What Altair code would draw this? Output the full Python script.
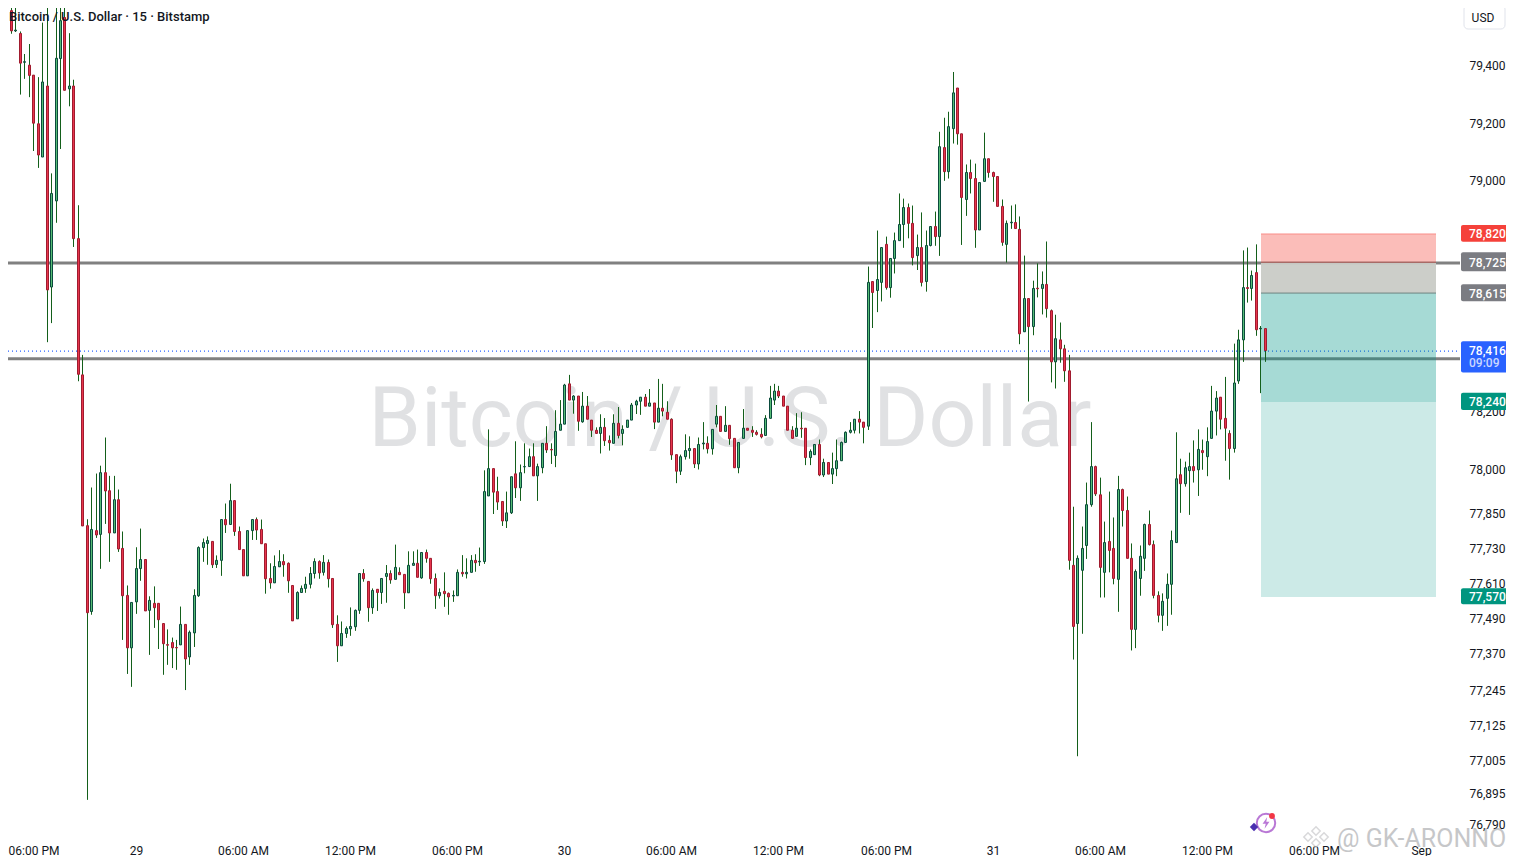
import json
import altair as alt
import pandas as pd

opens = [79623,79612,79594,79523,79514,79413,79403,79368,79198,79082,
79330,78630,78929,79426,79570,79320,79330,78798,78326,77807,
77513,77790,77777,77989,77927,77782,77896,77729,77568,77389,
77546,77660,77691,77517,77541,77541,77472,77400,77407,77390,
77399,77469,77358,77440,77567,77732,77746,77753,77674,77688,
77828,77811,77893,77787,77725,77635,77790,77828,77794,77745,
77626,77611,77666,77684,77678,77602,77488,77578,77592,77606,
77643,77684,77647,77681,77626,77469,77396,77438,77454,77461,
77517,77643,77616,77526,77589,77578,77633,77643,77623,77647,
77640,77577,77671,77678,77628,77715,77695,77626,77567,77582,
77575,77566,77567,77647,77642,77647,77688,77683,77684,77909,
78003,77924,77890,77823,77851,77985,77937,78009,78010,78044,
77978,78006,78090,78069,78048,78135,78156,78295,78239,78253,
78164,78218,78170,78135,78124,78145,78100,78090,78159,78124,
78145,78170,78222,78235,78249,78218,78229,78163,78211,78197,
78173,78051,77994,78044,78065,78072,78019,78088,78090,78071,
78156,78183,78131,78152,78107,78006,78107,78142,78135,78128,
78121,78117,78176,78239,78270,78253,78218,78135,78114,78142,
78142,78041,78051,78086,77981,78024,77984,78003,78030,78093,
78128,78135,78173,78163,78149,78649,78618,78646,78778,78628,
78729,78791,78847,78906,78851,78739,78767,78649,78774,78840,
78805,79115,79031,79181,79323,79163,78934,79028,79007,78828,
78997,79076,79028,79014,78910,78778,78853,78854,78830,78475,
78590,78493,78626,78625,78639,78548,78371,78447,78416,78340,
77671,77472,77654,77739,77879,78010,77913,77647,77753,77729,
77623,77931,77859,77695,77452,77626,77695,77811,77742,77568,
77500,77558,77606,77749,77982,77951,77996,78010,77999,78065,
78044,78107,78201,78249,78176,78124,78072,78305,78447,78628,
78625,78680,78485,78486]

closes = [79613,79593,79523,79526,79410,79415,79367,79200,79089,79344,
78620,78955,79427,79559,79315,79330,78798,78328,77806,77509,
77794,77775,77989,77926,77782,77896,77727,77567,77389,77544,
77660,77691,77515,77551,77526,77485,77403,77398,77389,77389,
77469,77351,77442,77568,77732,77749,77756,77673,77688,77828,
77810,77893,77787,77725,77635,77790,77828,77792,77745,77625,
77611,77667,77684,77673,77618,77481,77578,77592,77606,77643,
77684,77645,77681,77625,77468,77396,77438,77455,77462,77517,
77643,77625,77526,77585,77578,77626,77643,77621,77664,77639,
77577,77671,77678,77630,77715,77695,77625,77567,77578,77574,
77563,77568,77647,77642,77647,77688,77680,77685,77924,78003,
77922,77888,77823,77851,77975,77937,77989,78010,78044,77978,
78010,78090,78067,78067,78131,78156,78291,78239,78253,78166,
78218,78173,78135,78124,78145,78099,78092,78159,78117,78138,
78170,78222,78235,78249,78218,78229,78163,78211,78201,78173,
78050,77994,78044,78065,78072,78019,78086,78091,78071,78138,
78183,78131,78152,78106,78006,78093,78142,78135,78128,78121,
78112,78176,78246,78270,78253,78218,78135,78107,78142,78140,
78041,78062,78086,77981,78024,77984,78003,78030,78093,78128,
78135,78173,78163,78145,78646,78611,78656,78767,78628,78729,
78791,78847,78906,78851,78732,78767,78646,78774,78840,78805,
79118,79031,79188,79306,79163,78941,79028,79007,78828,78993,
79076,79028,79014,78910,78785,78851,78855,78833,78468,78590,
78493,78625,78624,78639,78555,78371,78451,78416,78340,77688,
77462,77695,77729,77879,78010,77916,77664,77749,77722,77626,
77931,77859,77695,77452,77650,77702,77811,77742,77568,77500,
77548,77606,77756,77968,77951,78006,78010,77996,78069,78058,
78096,78201,78246,78173,78142,78072,78298,78447,78628,78625,
78670,78482,78487,78410]

highs = [79665,79647,79630,79647,79521,79442,79477,79368,79361,79552,
79647,79025,79647,79609,79647,79515,79352,78914,78395,77829,
77938,77986,78013,78110,77978,77978,77931,77787,77602,77544,
77733,77797,77691,77565,77599,77541,77472,77452,77424,77416,
77530,77469,77448,77589,77736,77763,77770,77753,77705,77828,
77883,77951,77893,77804,77725,77790,77828,77835,77828,77745,
77678,77705,77723,77709,77681,77602,77582,77602,77632,77665,
77695,77688,77706,77691,77626,77500,77479,77462,77527,77520,
77643,77658,77616,77592,77589,77626,77672,77654,77742,77664,
77640,77719,77719,77725,77715,77725,77695,77643,77592,77647,
77578,77585,77657,77706,77695,77706,77709,77732,77997,78138,
78003,77975,77890,77924,77975,78097,78017,78090,78072,78090,
78020,78090,78149,78090,78204,78239,78295,78326,78256,78253,
78267,78253,78170,78145,78190,78177,78117,78190,78215,78152,
78170,78229,78240,78249,78260,78277,78229,78312,78295,78235,
78176,78051,78051,78121,78114,78072,78110,78163,78114,78138,
78222,78183,78218,78152,78107,78093,78208,78142,78149,78135,
78142,78187,78288,78295,78288,78253,78218,78149,78194,78197,
78142,78069,78086,78103,78037,78024,78058,78103,78096,78131,
78163,78173,78201,78163,78701,78649,78826,78767,78805,78729,
78819,78955,78937,78920,78913,78812,78889,78826,78840,78892,
79170,79219,79240,79379,79323,79163,79056,79073,79059,78993,
79167,79076,79031,79014,78934,78861,78913,78917,78875,78739,
78590,78652,78712,78684,78788,78552,78534,78507,78430,78395,
77872,77705,77804,77955,78163,78013,77972,77821,77924,77835,
77978,77934,77907,77746,77657,77739,77814,77859,77756,77582,
77575,77643,77790,78128,78037,78027,78058,78100,78138,78103,
78145,78288,78270,78249,78319,78135,78434,78482,78757,78767,
78687,78778,78495,78486]

lows = [79574,79551,79513,79519,79300,79355,79291,79103,79044,79082,
78439,78505,78853,79110,79315,79259,78769,78304,77806,76872,
77502,77765,77659,77813,77683,77782,77717,77416,77300,77256,
77505,77618,77515,77365,77457,77385,77297,77331,77320,77314,
77399,77245,77331,77392,77563,77683,77673,77662,77662,77635,
77782,77811,77772,77725,77635,77635,77758,77758,77745,77574,
77591,77611,77666,77632,77577,77481,77488,77578,77577,77592,
77626,77625,77636,77595,77457,77341,77396,77423,77430,77447,
77505,77615,77478,77505,77515,77539,77543,77608,77623,77639,
77522,77577,77671,77630,77625,77680,77608,77522,77557,77529,
77502,77546,77567,77632,77626,77647,77649,77669,77676,77909,
77847,77861,77806,77799,77847,77902,77892,77987,78010,77978,
77892,77987,78057,78019,78008,78135,78156,78239,78192,78133,
78161,78173,78112,78124,78055,78081,78065,78090,78107,78083,
78145,78170,78191,78188,78218,78218,78139,78163,78183,78173,
78033,77953,77981,78034,78037,78005,78000,78069,78055,78051,
78145,78131,78131,78085,78006,77987,78107,78135,78112,78117,
78107,78117,78176,78222,78246,78218,78135,78107,78114,78109,
78015,78015,78051,77977,77974,77984,77950,77977,78030,78093,
78124,78124,78124,78090,78136,78488,78543,78580,78621,78593,
78677,78791,78766,78799,78705,78689,78632,78614,78771,78773,
78738,78999,79007,79129,79125,78776,78877,78955,78766,78828,
78997,79010,78926,78910,78773,78715,78832,78833,78432,78475,
78234,78463,78594,78535,78524,78300,78279,78368,78302,77656,
77349,77020,77437,77693,77872,77909,77561,77561,77647,77606,
77512,77804,77695,77380,77388,77567,77652,77739,77558,77476,
77447,77464,77502,77749,77851,77941,77844,77955,77909,77999,
77977,78107,78117,78138,78030,77965,78058,78295,78371,78576,
78583,78461,78263,78371]

assert len(opens) == len(closes) == len(highs) == len(lows) == 284

price_ticks = [79400,79200,79000,78200,78000,77850,77730,77610,77490,77370,77245,77125,77005,76895,76790]
time_ticks = [6,30,54,78,102,126,150,174,198,222,246,270,294,318]
time_labels = ["06:00 PM","29","06:00 AM","12:00 PM","06:00 PM","30","06:00 AM","12:00 PM","06:00 PM","31","06:00 AM","12:00 PM","06:00 PM","Sep"]

# position tool zones: (top price, bottom price, colour, opacity)
zone_top = [78814, 78713, 78609, 78232]
zone_bot = [78713, 78609, 78232, 77563]
zone_color = ["#f44336", "#c9cbc6", "#009688", "#009688"]
zone_alpha = [0.35, 0.95, 0.35, 0.2]

# price tags
tag_top = [78845, 78751, 78640, 78442, 78264, 77593]
tag_bot = [78787, 78685, 78581, 78334, 78205, 77538]
tag_color = ["#f5413a", "#7b7c82", "#7b7c82", "#2962ff", "#00957f", "#00957f"]
tag_text = ["78,820", "78,725", "78,615", "78,416", "09:09", "78,240", "77,570"]
tag_text_y = [78813, 78715, 78607, 78409, 78366, 78232, 77563]
tag_text_color = ["#ffffff", "#ffffff", "#ffffff", "#ffffff", "#c9d6ff", "#ffffff", "#ffffff"]

X0, X1 = 1.3445, 326.725
xs = alt.Scale(domain=[X0, X1], nice=False, zero=False, padding=0, round=True)
ys = alt.Scale(type="log", domain=[76749.6, 79603.3], nice=False, zero=False, padding=0)
FONT = "Roboto"
xaxis = alt.Axis(values=time_ticks, title=None, grid=False, domain=False, ticks=False,
                 labelExpr="%s[(datum.value-6)/24]" % json.dumps(time_labels),
                 labelFont=FONT, labelFontSize=12, labelColor="#131722", labelPadding=9,
                 labelFlush=False, labelOverlap=False,
                 labelOffset=alt.condition("datum.value == 6", alt.value(4.5), alt.value(0)))
yaxis = alt.Axis(values=price_ticks, orient="right", title=None, grid=False, domain=False, ticks=False,
                 format=",d", labelFont=FONT, labelFontSize=12, labelColor="#131722", labelPadding=9,
                 labelAlign="left", labelOverlap=False, labelFlush=False)


def X(f):
    return alt.X(f, scale=xs, axis=xaxis)


def Y(f):
    return alt.Y(f, scale=ys, axis=yaxis)


df = pd.DataFrame({"i": range(284), "o": opens, "c": closes, "h": highs, "l": lows})
df["dir"] = ["up" if c >= o else "down" for o, c in zip(opens, closes)]

watermark = alt.Chart(pd.DataFrame({"x": [163.1], "y": [78167], "t": ["Bitcoin / U.S. Dollar"]})).mark_text(
    font=FONT, fontSize=84, color="#e0e1e3", align="center", baseline="middle"
).encode(x=X("x:Q"), y=Y("y:Q"), text="t:N")

lines = alt.Chart(pd.DataFrame({"a": [X0, X0], "b": [X1, X1], "y": [78713, 78382]})).mark_rule(
    color="#808080", strokeWidth=3).encode(x=X("a:Q"), x2="b:Q", y=Y("y:Q"))

dotted = alt.Chart(pd.DataFrame({"a": [X0], "b": [X1], "y": [78408]})).mark_rule(
    color="#2962ff", strokeWidth=1.3, strokeDash=[1, 3]).encode(x=X("a:Q"), x2="b:Q", y=Y("y:Q"))

zones = alt.Chart(pd.DataFrame({"a": [282.06] * 4, "b": [321.3] * 4, "t": zone_top, "u": zone_bot,
                                "col": zone_color, "al": zone_alpha})).mark_rect().encode(
    x=X("a:Q"), x2="b:Q", y=Y("t:Q"), y2="u:Q",
    color=alt.Color("col:N", scale=None), opacity=alt.Opacity("al:Q", scale=None))

zone_edges = alt.Chart(pd.DataFrame({"a": [282.06] * 2, "b": [321.3] * 2, "y": [78814, 78609],
                                     "col": ["#f98d88", "#6f8480"]})).mark_rule(strokeWidth=1).encode(
    x=X("a:Q"), x2="b:Q", y=Y("y:Q"), color=alt.Color("col:N", scale=None))

wicks = alt.Chart(df).mark_rule(color="#135f1a", strokeWidth=1, clip=True, xOffset=0.5).encode(
    x=X("i:Q"), y=Y("h:Q"), y2="l:Q")

dir_dom = ["up", "down"]
bodies = alt.Chart(df).mark_bar(size=2, strokeWidth=1, orient="vertical", clip=True, xOffset=0.5).encode(
    x=X("i:Q"), y=Y("o:Q"), y2="c:Q",
    fill=alt.Fill("dir:N", scale=alt.Scale(domain=dir_dom, range=["#57bd76", "#e8354d"]), legend=None),
    stroke=alt.Stroke("dir:N", scale=alt.Scale(domain=dir_dom, range=["#0a4b3c", "#a01b2e"]), legend=None))

tags = alt.Chart(pd.DataFrame({"a": [327.0] * 6, "b": [337.85] * 6, "t": tag_top, "u": tag_bot,
                               "col": tag_color})).mark_rect(cornerRadius=2).encode(
    x=X("a:Q"), x2="b:Q", y=Y("t:Q"), y2="u:Q", color=alt.Color("col:N", scale=None))

tag_labels = alt.Chart(pd.DataFrame({"x": [328.7] * 7, "y": tag_text_y, "t": tag_text,
                                     "col": tag_text_color})).mark_text(
    font=FONT, fontSize=12, fontWeight=500, align="left", baseline="middle").encode(
    x=X("x:Q"), y=Y("y:Q"), text="t:N", color=alt.Color("col:N", scale=None))

title = alt.Chart(pd.DataFrame({"t": ["Bitcoin / U.S. Dollar \u00b7 15 \u00b7 Bitstamp"]})).mark_text(
    font=FONT, fontSize=13, fontWeight=500, color="#131722", align="left", baseline="middle"
).encode(x=alt.value(1), y=alt.value(9), text="t:N")

usd_box = alt.Chart(pd.DataFrame({"k": [1]})).mark_rect(
    fill="#ffffff", stroke="#e0e3eb", cornerRadius=4, strokeWidth=1
).encode(x=alt.value(1456), x2=alt.value(1497), y=alt.value(-3), y2=alt.value(21))
usd_text = alt.Chart(pd.DataFrame({"t": ["USD"]})).mark_text(
    font=FONT, fontSize=12, color="#131722", align="center", baseline="middle"
).encode(x=alt.value(1475), y=alt.value(10), text="t:N")

brand = alt.Chart(pd.DataFrame({"t": ["@ GK-ARONNO"]})).mark_text(
    font=FONT, fontSize=25, color="#8f9094", opacity=0.5, align="left", baseline="middle"
).encode(x=alt.value(1329), y=alt.value(831), text="t:N")
brand_mark = alt.Chart(pd.DataFrame({"px": [1300, 1308, 1316, 1308], "py": [829, 823, 829, 835]})).mark_point(
    shape="diamond", size=70, color="#c9c9cc", strokeWidth=1.5
).encode(x=alt.X("px:Q", scale=None, axis=None), y=alt.Y("py:Q", scale=None, axis=None))

ring = alt.Chart(pd.DataFrame({"k": [1]})).mark_point(
    shape="circle", size=340, color="#9c3fc4", strokeWidth=2
).encode(x=alt.value(1258), y=alt.value(815))
bolt = alt.Chart(pd.DataFrame({"k": [1]})).mark_point(
    shape="M0.2,-1 L-0.6,0.15 L-0.05,0.15 L-0.25,1 L0.6,-0.2 L0.05,-0.2 Z",
    size=130, filled=True, color="#9c3fc4", strokeWidth=0
).encode(x=alt.value(1258), y=alt.value(815))
dot = alt.Chart(pd.DataFrame({"k": [1]})).mark_point(
    shape="circle", size=34, filled=True, color="#f23645", opacity=1
).encode(x=alt.value(1264), y=alt.value(808))
star = alt.Chart(pd.DataFrame({"k": [1]})).mark_point(
    shape="diamond", size=70, filled=True, color="#4a2fb0", opacity=1
).encode(x=alt.value(1246), y=alt.value(819))

chart = alt.layer(
    watermark, lines, dotted, zones, zone_edges, wicks, bodies, tags, tag_labels,
    title, usd_box, usd_text, ring, bolt, dot, star, brand_mark, brand
).resolve_scale(color="independent", opacity="independent").properties(
    width=1452, height=828,
    padding={"left": 0, "top": 0, "right": 46, "bottom": 20},
    autosize=alt.AutoSizeParams(type="none"),
    background="#ffffff",
).configure_view(strokeWidth=0)

chart.save("out.html", embed_options={"renderer": "svg", "actions": False})
